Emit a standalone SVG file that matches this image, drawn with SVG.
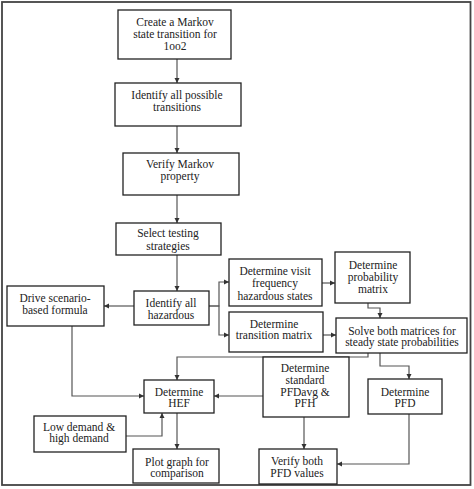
<svg xmlns="http://www.w3.org/2000/svg" width="474" height="489" viewBox="0 0 474 489">
<defs>
<style>
.b{fill:#fff;stroke:#222;stroke-width:1.3}
.t{font-family:"Liberation Serif","Times New Roman",serif;font-size:11.5px;fill:#222;text-anchor:middle}
.c{fill:none;stroke:#555;stroke-width:1.2}
</style>
<marker id="a" markerWidth="6" markerHeight="6" refX="5" refY="3" orient="auto" markerUnits="userSpaceOnUse">
<path d="M0,0.5 L5,3 L0,5.5 Z" fill="#333"/>
</marker>
</defs>
<rect x="0" y="0" width="474" height="489" fill="#fff"/>
<rect x="2" y="2" width="468.5" height="483" fill="none" stroke="#444" stroke-width="1.8"/>
<g id="connectors" class="c" marker-end="url(#a)">
<path d="M177,59 V83"/>
<path d="M177,126 V153"/>
<path d="M177,195 V223"/>
<path d="M177,255 V291"/>
<path d="M134,306 H104"/>
<path d="M209,306 H219 V282 H229"/>
<path d="M209,306 H219 V335 H229"/>
<path d="M322,283 H335"/>
<path d="M368,303 V308 H380 V318"/>
<path d="M323,335 H336"/>
<path d="M368,353 V357 H177 V380"/>
<path d="M380,353 V366 H409 V379"/>
<path d="M72,326 V396 H144"/>
<path d="M263,396 H214"/>
<path d="M126,436 H162 V413"/>
<path d="M177,413 V449"/>
<path d="M304,417 V449"/>
<path d="M409,414 V464 H337"/>
</g>
<g id="n1"><rect class="b" x="118" y="10" width="113" height="49"/><text class="t" x="175" y="26">Create a Markov</text><text class="t" x="175" y="38">state transition for</text><text class="t" x="175" y="50">1oo2</text></g>
<g id="n2"><rect class="b" x="115" y="83" width="126" height="43"/><text class="t" x="177" y="99">Identify all possible</text><text class="t" x="177" y="111">transitions</text></g>
<g id="n3"><rect class="b" x="123" y="153" width="116" height="42"/><text class="t" x="180" y="168">Verify Markov</text><text class="t" x="180" y="180">property</text></g>
<g id="n4"><rect class="b" x="116" y="223" width="105" height="32"/><text class="t" x="168" y="237">Select testing</text><text class="t" x="168" y="250">strategies</text></g>
<g id="n5"><rect class="b" x="134" y="291" width="75" height="34"/><text class="t" x="171" y="307">Identify all</text><text class="t" x="171" y="319">hazardous</text></g>
<g id="n6"><rect class="b" x="7" y="286" width="97" height="40"/><text class="t" x="55" y="302">Drive scenario-</text><text class="t" x="55" y="314">based formula</text></g>
<g id="n7"><rect class="b" x="229" y="259" width="93" height="47"/><text class="t" x="275" y="275">Determine visit</text><text class="t" x="275" y="287">frequency</text><text class="t" x="275" y="300">hazardous states</text></g>
<g id="n8"><rect class="b" x="335" y="252" width="75" height="51"/><text class="t" x="373" y="269">Determine</text><text class="t" x="373" y="281">probability</text><text class="t" x="373" y="293">matrix</text></g>
<g id="n9"><rect class="b" x="229" y="312" width="94" height="40"/><text class="t" x="274" y="328">Determine</text><text class="t" x="274" y="339">transition matrix</text></g>
<g id="n10"><rect class="b" x="336" y="318" width="131" height="35"/><text class="t" x="402" y="335">Solve both matrices for</text><text class="t" x="402" y="346">steady state probabilities</text></g>
<g id="n11"><rect class="b" x="144" y="380" width="70" height="33"/><text class="t" x="179" y="396">Determine</text><text class="t" x="179" y="407">HEF</text></g>
<g id="n12"><rect class="b" x="263" y="357" width="86" height="60"/><text class="t" x="305" y="372">Determine</text><text class="t" x="305" y="384">standard</text><text class="t" x="305" y="396">PFDavg &amp;</text><text class="t" x="305" y="407">PFH</text></g>
<g id="n13"><rect class="b" x="368" y="379" width="74" height="35"/><text class="t" x="405" y="396">Determine</text><text class="t" x="405" y="407">PFD</text></g>
<g id="n14"><rect class="b" x="34" y="416" width="92" height="36"/><text class="t" x="79" y="431">Low demand &amp;</text><text class="t" x="79" y="442">high demand</text></g>
<g id="n15"><rect class="b" x="133" y="449" width="86" height="34"/><text class="t" x="177" y="466">Plot graph for</text><text class="t" x="177" y="477">comparison</text></g>
<g id="n16"><rect class="b" x="259" y="449" width="78" height="35"/><text class="t" x="297" y="465">Verify both</text><text class="t" x="297" y="477">PFD values</text></g>
</svg>
